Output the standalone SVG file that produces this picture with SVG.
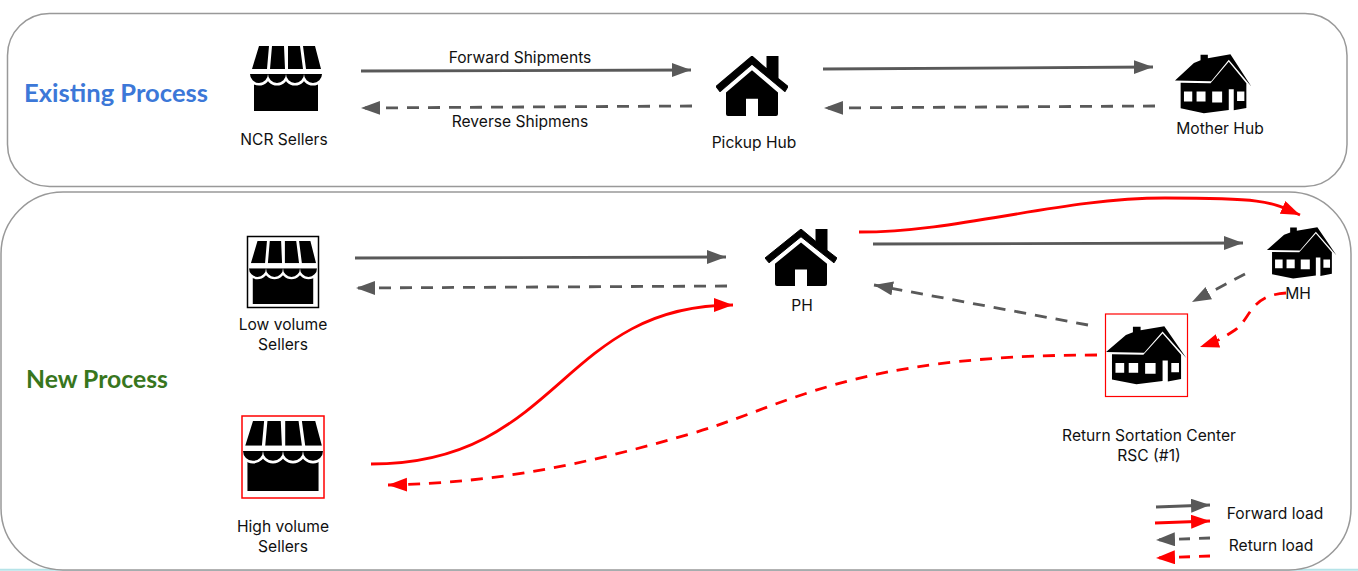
<svg xmlns="http://www.w3.org/2000/svg" width="1358" height="571" viewBox="0 0 1358 571">
<style>
text{font-family:"Inter","Liberation Sans",sans-serif;font-size:15.600px;fill:#111;text-anchor:middle}
.title{font-family:"Lato","Liberation Sans",sans-serif;font-size:24.500px;font-weight:700;text-anchor:start}
.panel{fill:#fff;stroke:#999;stroke-width:1.5}
.g,.gd,.r,.rd{fill:none;stroke-width:2.8}
.g{stroke:#595959;marker-end:url(#ag)}
.gd{stroke:#595959;stroke-dasharray:12 9;marker-end:url(#ag)}
.r{stroke:#f00;marker-end:url(#ar)}
.rd{stroke:#f00;stroke-dasharray:12 9;marker-end:url(#ar)}
</style>
<defs>
<marker id="ag" markerUnits="userSpaceOnUse" markerWidth="21" markerHeight="16" refX="19" refY="7" orient="auto"><path d="M0 0L19 7L0 14Z" fill="#595959"/></marker>
<marker id="ar" markerUnits="userSpaceOnUse" markerWidth="21" markerHeight="16" refX="19" refY="7" orient="auto"><path d="M0 0L19 7L0 14Z" fill="#f00"/></marker>
<symbol id="store" viewBox="0 0 72 66" preserveAspectRatio="none">
<path d="M9 0H19L17 23H2ZM22 0H34L35 23H20ZM38 0H50L53 23H38ZM53 0H65L71 23H56Z"/>
<path d="M4 33H68V65H4Z"/>
<path d="M0 28H18A9 9 0 0 1 0 28ZM18 28H36A9 9 0 0 1 18 28ZM36 28H54A9 9 0 0 1 36 28ZM54 28H72A9 9 0 0 1 54 28Z" stroke="#fff" stroke-width="5" paint-order="stroke"/>
<path d="M-2 23H74V28H-2Z" fill="#fff"/>
</symbol>
<symbol id="home" viewBox="0 0 72 60" preserveAspectRatio="none">
<path d="M0 30L36 0L51 13V0H62V22L72 30L69 35L36 8L4 35Z" stroke="#000" stroke-width="1" stroke-linejoin="round"/>
<path d="M10 36L36 14L62 36V57Q62 59 60 59H42V42H30V59H12Q10 59 10 57Z"/>
</symbol>
<symbol id="house" viewBox="100 40 235 185" preserveAspectRatio="none">
<path d="M103 122L160 70L180 62V45H202V56L270 44L333 140L265 60L212 124Z"/>
<path d="M120 129L210 130L265 66L318 130V204L280 211V148H265V210L190 220L120 205ZM130 155V185H155V155ZM168 155V185H195V155ZM215 155V188H245V155ZM290 155V183H312V155Z" fill-rule="evenodd"/>
</symbol>
</defs>
<rect width="1358" height="571" fill="#fff"/>
<path d="M0 569.800H1358" stroke="#b5e3e8" stroke-width="2"/>
<rect class="panel" x="7.500" y="13.500" width="1339.500" height="173" rx="42"/>
<rect class="panel" x="1" y="192" width="1350" height="378" rx="62"/>
<text class="title" x="24" y="102" textLength="184" lengthAdjust="spacingAndGlyphs" style="fill:#3c78d8">Existing Process</text>
<text class="title" x="26" y="388" textLength="142" lengthAdjust="spacingAndGlyphs" style="fill:#38761d">New Process</text>
<g id="connectors">
<path class="g" d="M361 71L691 70"/>
<path class="gd" d="M692 106L361 108"/>
<path class="g" d="M823 69L1153 67"/>
<path class="gd" d="M1155 106L824 108"/>
<path class="g" d="M355 258L726 257"/>
<path class="gd" d="M727 286L356 288"/>
<path class="g" d="M873 244L1243 243"/>
<path class="r" d="M859 232C960 232 1060 198 1165 198S1270 202 1300 215"/>
<path class="gd" d="M1088 325L874 285"/>
<path class="gd" d="M1245 274L1192 302"/>
<path class="rd" d="M1286 293C1250 295 1250 320 1235 330S1215 342 1200 347"/>
<path class="rd" d="M1097 355C850 355 790 405 690 434S500 483 388 485"/>
<path class="r" d="M371 464C560 464 560 305 733 305"/>
<path class="g" d="M1156 507L1210 505"/>
<path class="r" d="M1155 523L1210 521"/>
<path class="gd" style="stroke-dasharray:11 9" d="M1210 538L1156 540"/>
<path class="rd" style="stroke-dasharray:11 9" d="M1210 556L1156 558"/>
</g>
<g id="ncr-sellers"><use href="#store" x="250" y="46" width="72" height="66"/><text x="284" y="145">NCR Sellers</text></g>
<g id="pickup-hub"><use href="#home" x="716" y="56" width="72" height="61"/><text x="754" y="148">Pickup Hub</text></g>
<g id="mother-hub"><use href="#house" x="1174" y="53" width="78" height="62"/><text x="1220" y="134">Mother Hub</text></g>
<g id="low-volume"><rect x="247.500" y="236.500" width="71" height="71" fill="none" stroke="#000" stroke-width="1.500"/><use href="#store" x="249" y="241" width="68" height="64"/><text x="283" y="330">Low volume</text><text x="283" y="350">Sellers</text></g>
<g id="high-volume"><rect x="242" y="416" width="82" height="82" fill="none" stroke="#f00" stroke-width="1.500"/><use href="#store" x="243" y="421" width="80" height="71"/><text x="283" y="532">High volume</text><text x="283" y="552">Sellers</text></g>
<g id="ph"><use href="#home" x="765" y="229" width="72" height="58"/><text x="802" y="311">PH</text></g>
<g id="mh"><use href="#house" x="1266" y="226" width="71" height="54"/><text x="1298" y="299">MH</text></g>
<g id="rsc"><rect x="1105.500" y="314" width="82" height="82.500" fill="none" stroke="#f00" stroke-width="1.200"/><use href="#house" x="1105" y="325" width="82" height="61"/><text x="1149" y="441">Return Sortation Center</text><text x="1149" y="461">RSC (#1)</text></g>
<text x="520" y="63">Forward Shipments</text>
<text x="520" y="127">Reverse Shipmens</text>
<text x="1275" y="519">Forward load</text>
<text x="1271" y="551">Return load</text>
</svg>
